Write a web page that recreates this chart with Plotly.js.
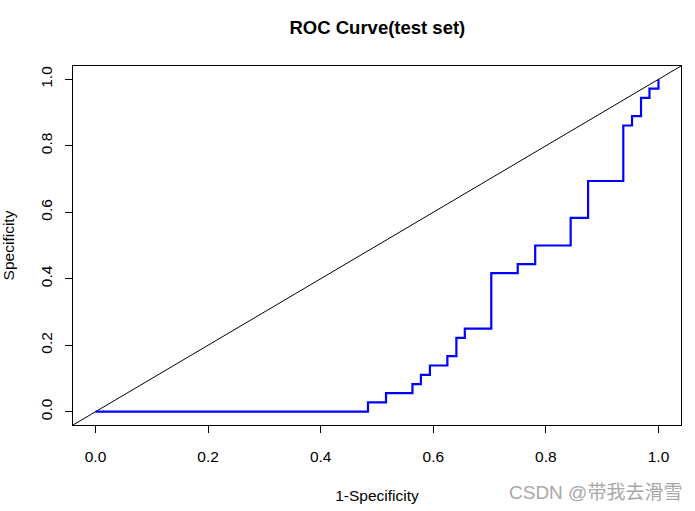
<!DOCTYPE html>
<html>
<head>
<meta charset="utf-8">
<script src="https://cdn.plot.ly/plotly-3.0.1.min.js"></script>
<style>html,body{margin:0;padding:0;background:#fff;}#chart{width:695px;height:511px;}</style>
</head>
<body>
<div id="chart"></div>
<script>
// ROC step curve points (horizontal-then-vertical steps)
var fpr = [0.000, 0.484, 0.516, 0.563, 0.578, 0.594, 0.625, 0.641, 0.656, 0.703, 0.750, 0.781, 0.844, 0.875, 0.9375, 0.953, 0.969, 0.984, 1.000];
var tpr = [0.000, 0.028, 0.056, 0.083, 0.111, 0.139, 0.167, 0.222, 0.250, 0.417, 0.444, 0.500, 0.583, 0.694, 0.861, 0.889, 0.944, 0.972, 1.000];
var refX = [-0.04, 1.04];
var refY = [-0.04, 1.04];
var tickVals = [0, 0.2, 0.4, 0.6, 0.8, 1.0];
var tickText = ['0.0', '0.2', '0.4', '0.6', '0.8', '1.0'];

var font = 'Liberation Sans, Arial, sans-serif';
var traces = [
  {x: refX, y: refY, mode: 'lines', line: {color: '#000', width: 1}, hoverinfo: 'skip'},
  {x: fpr, y: tpr, mode: 'lines', line: {color: '#0000ff', width: 2.2, shape: 'hv'}}
];
var axisCommon = {
  range: [-0.04, 1.04], tickvals: tickVals, ticktext: tickText,
  showgrid: false, zeroline: false, showline: true, mirror: true,
  linecolor: '#000', linewidth: 1, ticks: 'outside', ticklen: 7, tickcolor: '#000',
  tickfont: {family: font, size: 15.5, color: '#000'}
};
var layout = {
  width: 695, height: 511,
  margin: {l: 73, r: 14, t: 66, b: 86},
  paper_bgcolor: '#fff', plot_bgcolor: '#fff',
  showlegend: false,
  title: {text: '<b>ROC Curve(test set)</b>', font: {family: font, size: 18.5, color: '#000'},
          x: 0.543, xanchor: 'center', y: 0.947, yanchor: 'middle'},
  xaxis: Object.assign({}, axisCommon, {
    ticklabelstandoff: 10,
    title: {text: '1-Specificity', font: {family: font, size: 15.5, color: '#000'}, standoff: 26}
  }),
  yaxis: Object.assign({}, axisCommon, {
    tickangle: -90, ticklabelstandoff: 7,
    title: {text: 'Specificity', font: {family: font, size: 15.5, color: '#000'}, standoff: 20}
  }),
  annotations: [
    {text: 'CSDN @带我去滑雪', xref: 'paper', yref: 'paper', x: 1.005, y: -0.188,
     xanchor: 'right', yanchor: 'middle', showarrow: false,
     font: {family: 'Liberation Sans, Noto Sans CJK SC, sans-serif', size: 19, color: '#a8a8a8'}}
  ]
};
Plotly.newPlot('chart', traces, layout, {displayModeBar: false, staticPlot: true});
</script>
</body>
</html>
